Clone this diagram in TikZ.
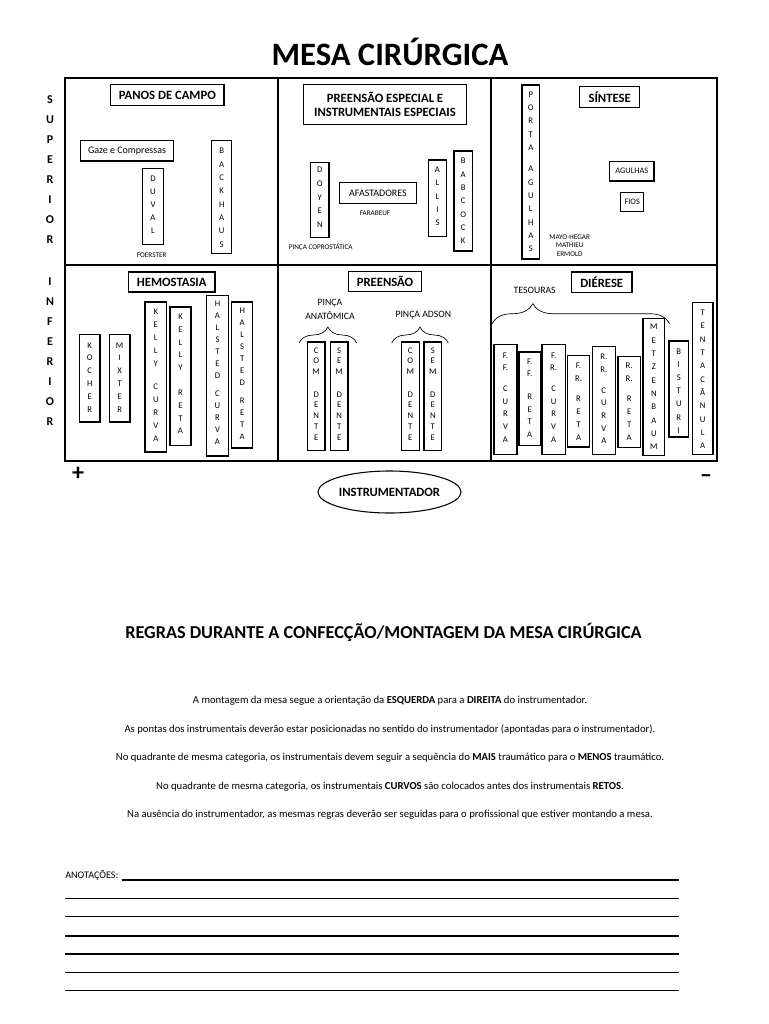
\documentclass[tikz,border=0pt]{standalone}
\usepackage{fontspec}
\setmainfont{Carlito}
\usetikzlibrary{shapes.geometric,decorations.pathreplacing}

\begin{document}
\begin{tikzpicture}[
        x=0.75pt, y=-0.75pt,
        grid/.style={line width=0.8pt},
        tbox/.style 2 args={draw, line width=0.9pt, inner sep=0pt, minimum width=#1*0.75pt, minimum height=#2*0.75pt},
        vstack/.style n args={3}{draw, line width=0.9pt, inner sep=0pt,
            execute at begin node={\begin{minipage}[c][\dimexpr #2pt*3/4\relax][t]{\dimexpr #1pt*3/4\relax}\centering\vspace*{\dimexpr #3pt*3/4\relax}},
            execute at end node={\end{minipage}}},
        vert/.style={font=\fontsize{6.5}{#1}\selectfont},
        title/.style={font=\fontsize{24.5}{28}\selectfont\bfseries},
        subtitle/.style={font=\fontsize{13.65}{16}\selectfont\bfseries},
        head/.style={font=\fontsize{9.5}{10.7}\selectfont\bfseries, align=center},
        item/.style={font=\fontsize{7.5}{9}\selectfont},
        minor/.style={font=\fontsize{6.3}{7.5}\selectfont},
        label/.style={font=\fontsize{7.3}{10.5}\selectfont, align=center},
        note/.style={font=\fontsize{5.4}{6.5}\selectfont, align=center},
        side/.style={font=\fontsize{9}{15}\selectfont\bfseries, align=center},
        sign/.style={font=\fontsize{18}{20}\selectfont\bfseries},
        rule/.style={font=\fontsize{8}{9.5}\selectfont, anchor=base},
        ruleline/.style={line width=1pt},
        brc/.style={decorate, decoration={brace, amplitude=12pt}, line width=0.5pt}
    ]
        \useasboundingbox (0,0) rectangle (768,1024);

        % Table grid
        \draw[grid] (65,78) rectangle (717,461);
        \draw[grid] (278,78) -- (278,461);
        \draw[grid] (491,78) -- (491,461);
        \draw[grid] (65,265) -- (717,265);

        % Title and sides
        \node[title] (mesa) at (390,52) {MESA CIRÚRGICA};
        \node[side] (sup) at (50,170) {S\\U\\P\\E\\R\\I\\O\\R};
        \node[side] (inf) at (50,351.4) {I\\N\\F\\E\\R\\I\\O\\R};

        % Panos de campo
        \node[tbox={113.3}{21.4}, head] (panos) at (167.3,95) {PANOS DE CAMPO};
        \node[tbox={92.6}{20.3}, item] (gaze) at (127,150.8) {Gaze e Compressas};
        \node[vstack={20.6}{76}{7.2}, vert=9.9] (duval) at (153,206.3) {D\\U\\V\\A\\L};
        \node[vstack={20}{112.6}{7.5}, vert=10] (backhaus) at (221.7,197) {B\\A\\C\\K\\H\\A\\U\\S};
        \node[note] (foerster) at (151.7,255) {FOERSTER};

        % Preensao especial
        \node[tbox={163.4}{40}, head] (especial) at (385,104.3) {PREENSÃO ESPECIAL E\\INSTRUMENTAIS ESPECIAIS};
        \node[vstack={18.3}{75}{4.9}, vert=10.3] (doyen) at (319.8,199.8) {D\\O\\Y\\E\\N};
        \node[tbox={77.4}{20.6}, item] (afast) at (378,193) {AFASTADORES};
        \node[note] (farabeuf) at (375,213.3) {FARABEUF};
        \node[note] (coprost) at (320.7,246.7) {PINÇA COPROSTÁTICA};
        \node[vstack={18.4}{76.7}{7.2}, vert=9.9] (allis) at (437.5,198.3) {A\\L\\L\\I\\S};
        \node[vstack={18.3}{100}{7.2}, vert=10] (babcock) at (463.2,201) {B\\A\\B\\C\\O\\C\\K};

        % Sintese
        \node[vstack={17.7}{174}{6.5}, vert=10] (porta) at (530.8,172) {P\\O\\R\\T\\A\\[6.2pt]A\\G\\U\\L\\H\\A\\S};
        \node[tbox={60}{20.6}, head] (sintese) at (609.7,97) {SÍNTESE};
        \node[tbox={44.3}{19.3}, minor] (agulhas) at (631.8,171.3) {AGULHAS};
        \node[tbox={23}{19.4}, minor] (fios) at (632.2,202) {FIOS};
        \node[note] (portanote) at (569.7,245.5) {MAYO-HEGAR\\MATHIEU\\ERMOLD};

        % Hemostasia
        \node[tbox={86.7}{20}, head] (hemo) at (171.7,282) {HEMOSTASIA};
        \node[vstack={20.7}{87.3}{7.9}, vert=9.6] (kocher) at (89.7,378.3) {K\\O\\C\\H\\E\\R};
        \node[vstack={20.7}{87.3}{7.9}, vert=9.6] (mixter) at (119.7,378.3) {M\\I\\X\\T\\E\\R};
        \node[vstack={21.7}{150}{6.5}, vert=9.75] (kellyc) at (155.8,377) {K\\E\\L\\L\\Y\\[7.9pt]C\\U\\R\\V\\A};
        \node[vstack={21}{138.3}{7.2}, vert=9.5] (kellyr) at (180.5,376.2) {K\\E\\L\\L\\Y\\[9.4pt]R\\E\\T\\A};
        \node[vstack={21.6}{160.7}{5.5}, vert=9] (halstedc) at (217.5,375.7) {H\\A\\L\\S\\T\\E\\D\\[4.7pt]C\\U\\R\\V\\A};
        \node[vstack={21}{146}{5.5}, vert=9] (halstedr) at (242.2,375) {H\\A\\L\\S\\T\\E\\D\\[4.5pt]R\\E\\T\\A};

        % Preensao
        \node[tbox={73.4}{20}, head] (preensao) at (385,281.3) {PREENSÃO};
        \node[label] (anatomica) at (330,309) {PINÇA\\ANATÔMICA};
        \draw[brc] (299,343) -- (356.7,343);
        \node[vstack={17.7}{108.3}{5.5}, vert=8.1] (com1) at (316.2,396.2) {C\\O\\M\\[8.6pt]D\\E\\N\\T\\E};
        \node[vstack={17.7}{108.3}{5.5}, vert=8.1] (sem1) at (339.2,396.2) {S\\E\\M\\[8.6pt]D\\E\\N\\T\\E};
        \node[label] (adson) at (423.3,315.3) {PINÇA ADSON};
        \draw[brc] (391.7,343) -- (448.3,343);
        \node[vstack={17.7}{108.3}{5.5}, vert=8.1] (com2) at (410.3,396.2) {C\\O\\M\\[8.6pt]D\\E\\N\\T\\E};
        \node[vstack={17.7}{108.3}{5.5}, vert=8.1] (sem2) at (432.8,396.2) {S\\E\\M\\[8.6pt]D\\E\\N\\T\\E};

        % Dierese
        \node[tbox={60.7}{20.7}, head] (dierese) at (601.7,282.3) {DIÉRESE};
        \node[label] (tesouras) at (534.7,290.3) {TESOURAS};
        \draw[brc, decoration={brace, amplitude=15pt, aspect=0.23}] (492,323.7) -- (669.7,323.7);
        \node[vstack={23}{110}{7.9}, vert=9.5] (ffc) at (505.5,399.7) {F.\\F.\\[6pt]C\\U\\R\\V\\A};
        \node[vstack={21.3}{93.3}{6.5}, vert=9.5] (ffr) at (529.7,398.7) {F.\\F.\\[7.5pt]R\\E\\T\\A};
        \node[vstack={23.3}{110}{7.9}, vert=9.5] (frc) at (553.7,399.7) {F.\\R.\\[6pt]C\\U\\R\\V\\A};
        \node[vstack={22.4}{91.7}{7.2}, vert=9.75] (frr) at (578.5,401.2) {F.\\R.\\[5.3pt]R\\E\\T\\A};
        \node[vstack={23}{108.4}{7.9}, vert=9.5] (rrc) at (603.8,400.5) {R.\\R.\\[6pt]C\\U\\R\\V\\A};
        \node[vstack={22.3}{91.4}{6.2}, vert=9.75] (rrr) at (629.2,402) {R.\\R.\\[5.3pt]R\\E\\T\\A};
        \node[vstack={21.7}{136.6}{5.5}, vert=10] (metz) at (653.8,387) {M\\E\\T\\Z\\E\\N\\B\\A\\U\\M};
        \node[vstack={19.7}{96}{7.5}, vert=9.9] (bisturi) at (678.8,389) {B\\I\\S\\T\\U\\R\\I};
        \node[vstack={20.7}{152}{7.2}, vert=10] (tenta) at (702.7,378.7) {T\\E\\N\\T\\A\\C\\Â\\N\\U\\L\\A};

        % Instrumentador side
        \node[sign] (plus) at (78,474) {+};
        \node[sign, anchor=base] (minus) at (706,482) {--};
        \node[ellipse, draw, line width=0.8pt, inner sep=0pt, minimum width=124*0.75pt, minimum height=42*0.75pt, head] (instr) at (389.5,492) {INSTRUMENTADOR};

        % Rules
        \node[subtitle] (regras) at (383.5,632) {REGRAS DURANTE A CONFECÇÃO/MONTAGEM DA MESA CIRÚRGICA};
        \node[rule] (r1) at (390,703.5) {A montagem da mesa segue a orientação da \textbf{ESQUERDA} para a \textbf{DIREITA} do instrumentador.};
        \node[rule] (r2) at (390,732.5) {As pontas dos instrumentais deverão estar posicionadas no sentido do instrumentador (apontadas para o instrumentador).};
        \node[rule] (r3) at (390,760.5) {No quadrante de mesma categoria, os instrumentais devem seguir a sequência do \textbf{MAIS} traumático para o \textbf{MENOS} traumático.};
        \node[rule] (r4) at (390,789.5) {No quadrante de mesma categoria, os instrumentais \textbf{CURVOS} são colocados antes dos instrumentais \textbf{RETOS}.};
        \node[rule] (r5) at (390,817.5) {Na ausência do instrumentador, as mesmas regras deverão ser seguidas para o profissional que estiver montando a mesa.};

        % Notes lines
        \node[rule, font=\fontsize{7.6}{9}\selectfont, anchor=base west, inner sep=0pt] (anot) at (65,878.5) {ANOTAÇÕES:};
        \draw[ruleline] (121.7,880) -- (679,880);
        \foreach \y in {898.3,916.7,936,954,972.3,990.7}
            \draw[ruleline] (65,\y) -- (679,\y);
    \end{tikzpicture}
\end{document}
